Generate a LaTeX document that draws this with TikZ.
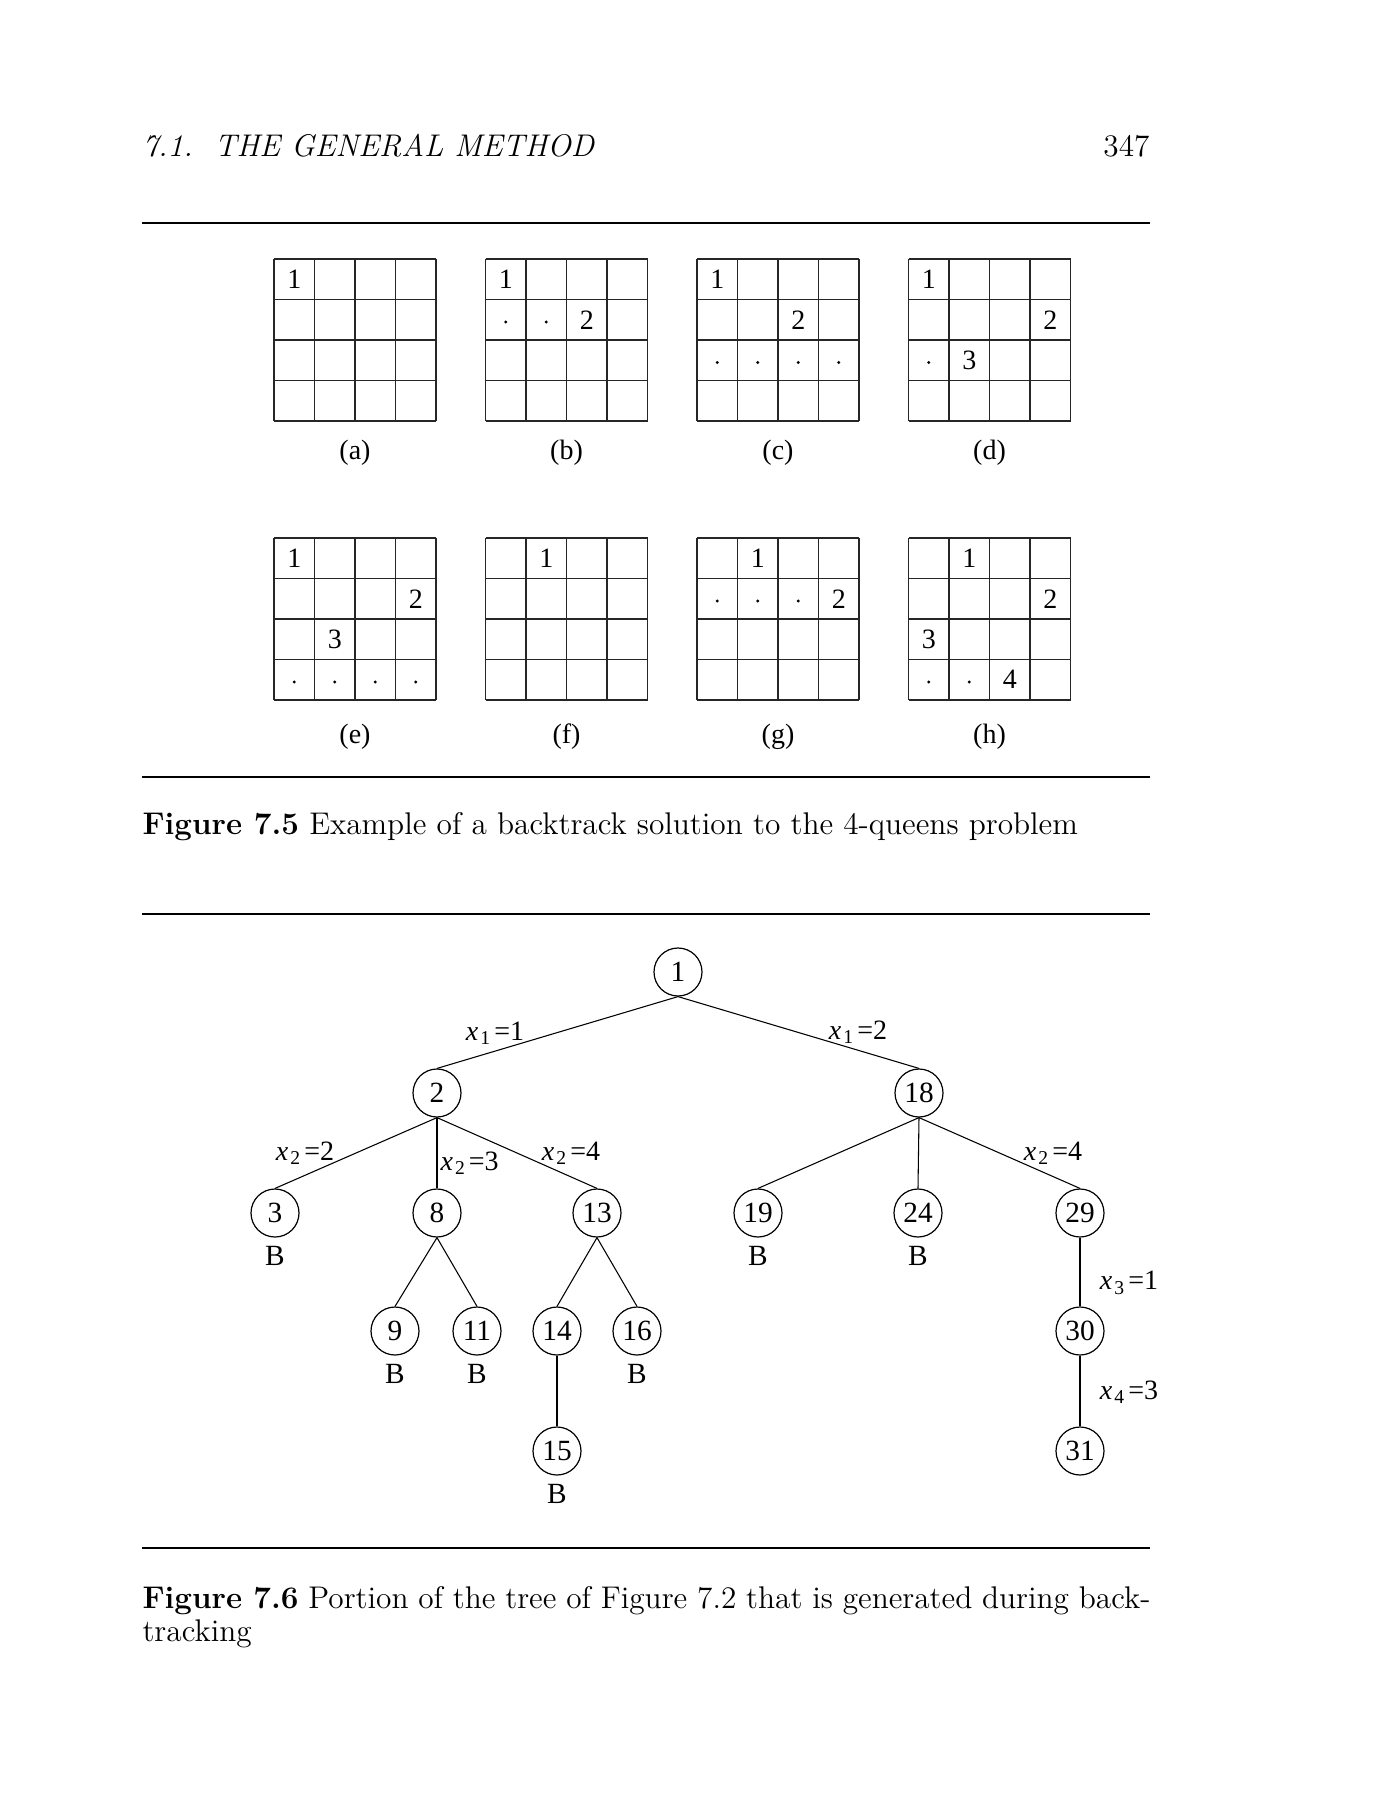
\documentclass[tikz,border=0pt]{standalone}
\usepackage{fontspec}
\newfontfamily\figfont{Liberation Serif}
\usetikzlibrary{positioning}
\tikzset{
  rulebar/.style={black,line width=0.8pt},
  cellline/.style={black!85,line width=0.45pt},
  queen/.style={inner sep=0pt,font=\figfont\fontsize{10.5}{12}\selectfont},
  boardcap/.style={inner sep=0pt,font=\figfont\fontsize{10.5}{12}\selectfont},
  tnode/.style={draw,circle,line width=0.45pt,minimum size=18pt,inner sep=0pt,
                font=\figfont\fontsize{11}{13}\selectfont},
  branch/.style={black,line width=0.4pt},
  bmark/.style={inner sep=0pt,font=\figfont\fontsize{11}{13}\selectfont},
  choice/.style={inner sep=0pt,font=\figfont\fontsize{10.5}{12}\selectfont},
  pagetext/.style={inner sep=0pt,font=\fontsize{11.75}{12.2}\selectfont},
}
\newcommand{\xeq}[2]{{\itshape x}\kern0.8pt\textsubscript{#1}\kern1pt=#2}

\begin{document}
\begin{tikzpicture}[x=0.375pt,y=-0.375pt]
  \path[use as bounding box] (0,0) rectangle (1393,1800);

  % running head
  \node[pagetext,anchor=west] (runhead) at (142,146) {\itshape 7.1.\ \ THE GENERAL METHOD};
  \node[pagetext,anchor=east] (folio) at (1150,146) {347};
  \draw[rulebar] (142,223) -- (1150,223);

  % the eight boards of Figure 7.5
  \foreach \bx/\by/\cy/\lab in {274/259/453/a,485.5/259/453/b,697/259/453/c,908.5/259/453/d,
                                274/538/737/e,485.5/538/737/f,697/538/737/g,908.5/538/737/h}{
    \foreach \k in {0,...,4}{
      \draw[cellline] (\bx+40.5*\k,\by) -- (\bx+40.5*\k,\by+162);
      \draw[cellline] (\bx,\by+40.5*\k) -- (\bx+162,\by+40.5*\k);
    }
    \node[boardcap] (cap-\lab) at (\bx+81,\cy) {(\lab)};
  }
  \foreach \bx/\by/\lab/\r/\c/\v in {274/259/a/1/1/1,
      485.5/259/b/1/1/1,485.5/259/b/2/3/2,
      697/259/c/1/1/1,697/259/c/2/3/2,
      908.5/259/d/1/1/1,908.5/259/d/2/4/2,908.5/259/d/3/2/3,
      274/538/e/1/1/1,274/538/e/2/4/2,274/538/e/3/2/3,
      485.5/538/f/1/2/1,
      697/538/g/1/2/1,697/538/g/2/4/2,
      908.5/538/h/1/2/1,908.5/538/h/2/4/2,908.5/538/h/3/1/3,908.5/538/h/4/3/4}{
    \node[queen] (q-\lab-\r-\c) at (\bx+40.5*\c-20.25,\by+40.5*\r-20.25) {\v};
  }
  \foreach \bx/\by/\r/\c in {485.5/259/2/1,485.5/259/2/2,
      697/259/3/1,697/259/3/2,697/259/3/3,697/259/3/4,
      908.5/259/3/1,
      274/538/4/1,274/538/4/2,274/538/4/3,274/538/4/4,
      697/538/2/1,697/538/2/2,697/538/2/3,
      908.5/538/4/1,908.5/538/4/2}{
    \fill (\bx+40.5*\c-20.25,\by+40.5*\r-18) circle (1.6);
  }
  \draw[rulebar] (142,777) -- (1150,777);
  \node[pagetext,anchor=west] (cap75) at (142,827)
    {\textbf{Figure 7.5} Example of a backtrack solution to the 4-queens problem};

  % Figure 7.6
  \draw[rulebar] (142,914) -- (1150,914);
  \node[tnode] (n1) at (678,972) {1};
  \node[tnode] (n2) at (437,1093) {2};
  \node[tnode] (n18) at (919,1093) {18};
  \node[tnode] (n3) at (275,1213) {3};
  \node[tnode] (n8) at (437,1213) {8};
  \node[tnode] (n13) at (597,1213) {13};
  \node[tnode] (n19) at (758,1213) {19};
  \node[tnode] (n24) at (918,1213) {24};
  \node[tnode] (n29) at (1080,1213) {29};
  \node[tnode] (n9) at (395,1331) {9};
  \node[tnode] (n11) at (477,1331) {11};
  \node[tnode] (n14) at (557,1331) {14};
  \node[tnode] (n16) at (637,1331) {16};
  \node[tnode] (n30) at (1080,1331) {30};
  \node[tnode] (n15) at (557,1451) {15};
  \node[tnode] (n31) at (1080,1451) {31};

  \foreach \p/\c in {1/2,1/18,2/3,2/8,2/13,8/9,8/11,13/14,13/16,14/15,18/19,18/24,18/29,29/30,30/31}{
    \draw[branch] (n\p.south) -- (n\c.north);
  }
  \foreach \c in {3,19,24,9,11,16,15}{
    \node[bmark,below=3pt of n\c] (b\c) {B};
  }

  \node[choice] (x1a) at (495,1033) {\xeq{1}{1}};
  \node[choice] (x1b) at (858,1032) {\xeq{1}{2}};
  \node[choice] (x2a) at (305,1153) {\xeq{2}{2}};
  \node[choice,anchor=west] (x2b) at (440,1163) {\xeq{2}{3}};
  \node[choice] (x2c) at (571,1153) {\xeq{2}{4}};
  \node[choice] (x2d) at (1053,1153) {\xeq{2}{4}};
  \node[choice] (x3a) at (1129,1283) {\xeq{3}{1}};
  \node[choice] (x4a) at (1129,1392) {\xeq{4}{3}};

  \draw[rulebar] (142,1548) -- (1150,1548);
  \node[pagetext,anchor=north west,text width=378pt,align=justify] (cap76) at (142,1586)
    {\textbf{Figure 7.6} Portion of the tree of Figure 7.2 that is generated during back-\linebreak tracking};
\end{tikzpicture}
\end{document}
